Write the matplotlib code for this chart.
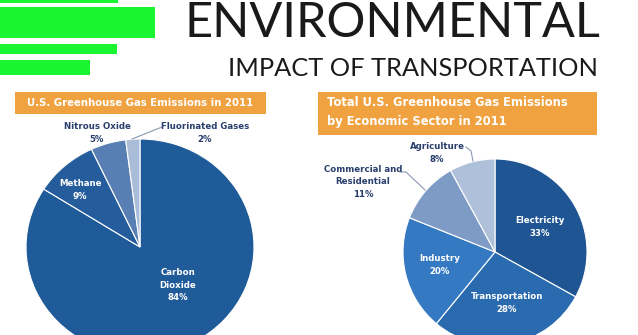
import matplotlib
matplotlib.use("Agg")
import matplotlib.pyplot as plt
from matplotlib.patches import Rectangle

W, H = 638, 335

# Data
gas_labels = ["Carbon\nDioxide", "Methane", "Nitrous Oxide", "Fluorinated Gases"]
gas_values = [84, 9, 5, 2]
sector_labels = ["Electricity", "Transportation", "Industry", "Commercial and\nResidential", "Agriculture"]
sector_values = [33, 28, 20, 11, 8]

gas_colors = ["#1f5a99", "#255d9c", "#587fb3", "#a9bcd8"]
sector_colors = ["#1f5593", "#2a6bb0", "#3479c1", "#7e9bc6", "#afc0da"]

fig = plt.figure(figsize=(W / 100, H / 100), dpi=100)
fig.patch.set_facecolor("white")

def pie_axes(cx, cy, rx, ry):
    a = fig.add_axes([(cx - rx) / W, (H - cy - ry) / H, 2 * rx / W, 2 * ry / H])
    a.axis("off")
    return a

# Left pie
axl = pie_axes(140, 247, 114, 108)
axl.pie(gas_values, colors=gas_colors, startangle=90, counterclock=False, radius=1,
        center=(0, 0), frame=False,
        wedgeprops=dict(edgecolor="white", linewidth=0.8))
axl.set_xlim(-1, 1); axl.set_ylim(-1, 1); axl.set_aspect("auto")

# Right pie
axr = pie_axes(495, 252, 92, 93)
axr.pie(sector_values, colors=sector_colors, startangle=90, counterclock=False, radius=1,
        center=(0, 0), frame=False,
        wedgeprops=dict(edgecolor="white", linewidth=0.8))
axr.set_xlim(-1, 1); axr.set_ylim(-1, 1); axr.set_aspect("auto")

# Overlay axes in pixel coordinates
ax = fig.add_axes([0, 0, 1, 1])
ax.set_xlim(0, W)
ax.set_ylim(H, 0)
ax.axis("off")
ax.patch.set_alpha(0)

green = "#19f530"
for (y0, y1, x1) in [(-2, 3, 118), (7, 38, 155), (44, 54, 117), (60, 75, 90)]:
    ax.add_patch(Rectangle((0, y0), x1, y1 - y0, color=green, lw=0))

ax.text(392, 23, "ENVIRONMENTAL", ha="center", va="center", fontsize=35,
        family="Lato", fontweight="normal", color="#1a1a1a")
ax.text(413, 68, "IMPACT OF TRANSPORTATION", ha="center", va="center", fontsize=18.3,
        family="Lato", fontweight="normal", color="#1a1a1a")

orange = "#f0a241"
ax.add_patch(Rectangle((15, 92), 251, 22, color=orange, lw=0))
ax.text(140, 103, "U.S. Greenhouse Gas Emissions in 2011", ha="center", va="center",
        fontsize=7.3, fontweight="bold", color="white", family="DejaVu Sans")
ax.add_patch(Rectangle((318, 92), 279, 43, color=orange, lw=0))
ax.text(327, 103, "Total U.S. Greenhouse Gas Emissions", ha="left", va="center",
        fontsize=8.3, fontweight="bold", color="white", family="DejaVu Sans")
ax.text(327, 122, "by Economic Sector in 2011", ha="left", va="center",
        fontsize=8.3, fontweight="bold", color="white", family="DejaVu Sans")

navy = "#2a3f6e"
fs = 6.2
def lab(x, y, name, val, color):
    ax.text(x, y, f"{name}\n{val}%", ha="center", va="center", fontsize=fs,
            fontweight="bold", color=color, linespacing=1.5, family="DejaVu Sans")

# Left labels
lab(178, 285, gas_labels[0], gas_values[0], "white")
lab(80, 190, gas_labels[1], gas_values[1], "white")
lab(97, 133, gas_labels[2], gas_values[2], navy)
lab(205, 133, gas_labels[3], gas_values[3], navy)
ax.plot([132, 162], [139, 127], color="#8a9ab0", lw=0.8)

# Right labels
lab(540, 227, sector_labels[0], sector_values[0], "white")
lab(507, 303, sector_labels[1], sector_values[1], "white")
lab(440, 265, sector_labels[2], sector_values[2], "white")
lab(363, 182, sector_labels[3], sector_values[3], navy)
lab(437, 153, sector_labels[4], sector_values[4], navy)
ax.plot([466, 471, 473], [147, 151, 161], color="#8a9ab0", lw=0.8)
ax.plot([400, 406, 425], [172, 172, 190], color="#8a9ab0", lw=0.8)

fig.savefig("out.png", dpi=100, facecolor="white")
